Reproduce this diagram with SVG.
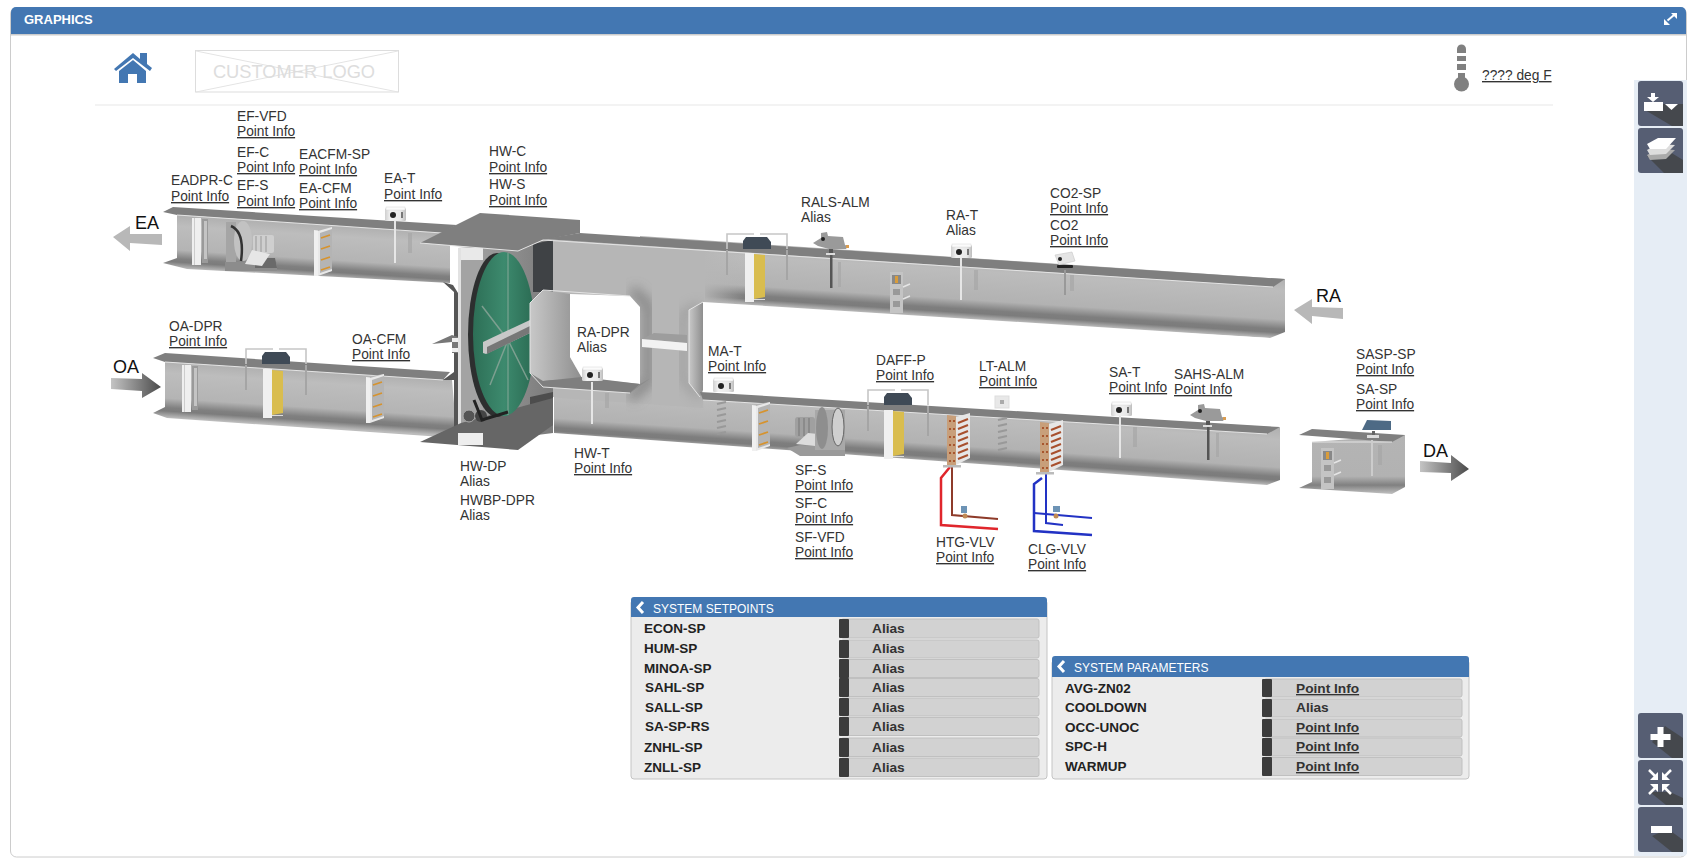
<svg xmlns="http://www.w3.org/2000/svg" xmlns:xlink="http://www.w3.org/1999/xlink" width="1696" height="863" viewBox="0 0 1696 863">
<style>
text{font-family:"Liberation Sans",Arial,sans-serif}
.t{font-size:13.75px;fill:#333}
.u{text-decoration:underline}
.big{font-size:18px;fill:#111}
.ph{font-size:12px;fill:#fff}
.n{font-size:13.5px;font-weight:bold;fill:#222}
.v{font-size:13.7px;font-weight:bold;fill:#333}
.plate{fill:#7f7f7f}
.edge{fill:none;stroke:#e4e4e4;stroke-width:1}
.row{fill:#d2d2d2;stroke:#c0c0c0;stroke-width:1}
.strip{fill:#3c3c3c}
.panel{fill:#ececec;stroke:#c4c4c4}
.hd{fill:#4377b2}
.btn{fill:#565e73}
.sh{fill:#45484d}
.ic{fill:#fff}
.probe{fill:#e6e6e6}
.pshade{fill:#a6a6a6;opacity:.7}
</style>
<defs>
<linearGradient id="gEA" gradientUnits="userSpaceOnUse" x1="0" y1="204" x2="0" y2="257" gradientTransform="matrix(1,0.0645,0,1,0,0)"><stop offset="0" stop-color="#b0b0b0"/><stop offset=".2" stop-color="#bdbdbd"/><stop offset=".65" stop-color="#b4b4b4"/><stop offset=".82" stop-color="#808080"/><stop offset=".88" stop-color="#7c7c7c"/><stop offset="1" stop-color="#bcbcbc"/></linearGradient>
<linearGradient id="gOA" gradientUnits="userSpaceOnUse" x1="0" y1="351" x2="0" y2="407" gradientTransform="matrix(1,0.0645,0,1,0,0)"><stop offset="0" stop-color="#b0b0b0"/><stop offset=".2" stop-color="#bdbdbd"/><stop offset=".65" stop-color="#b4b4b4"/><stop offset=".82" stop-color="#808080"/><stop offset=".88" stop-color="#7c7c7c"/><stop offset="1" stop-color="#bcbcbc"/></linearGradient>
<linearGradient id="gRA" gradientUnits="userSpaceOnUse" x1="0" y1="197" x2="0" y2="257.500" gradientTransform="matrix(1,0.0635,0,1,0,0)"><stop offset="0" stop-color="#b0b0b0"/><stop offset=".2" stop-color="#bcbcbc"/><stop offset=".68" stop-color="#b2b2b2"/><stop offset=".84" stop-color="#7e7e7e"/><stop offset=".9" stop-color="#7c7c7c"/><stop offset="1" stop-color="#bcbcbc"/></linearGradient>
<linearGradient id="gSA" gradientUnits="userSpaceOnUse" x1="0" y1="341" x2="0" y2="399" gradientTransform="matrix(1,0.068,0,1,0,0)"><stop offset="0" stop-color="#b0b0b0"/><stop offset=".2" stop-color="#bcbcbc"/><stop offset=".68" stop-color="#b2b2b2"/><stop offset=".84" stop-color="#7e7e7e"/><stop offset=".9" stop-color="#7c7c7c"/><stop offset="1" stop-color="#bcbcbc"/></linearGradient>
<linearGradient id="gDA" x1="0" y1="0" x2="0" y2="1"><stop offset="0" stop-color="#b4b4b4"/><stop offset=".7" stop-color="#b2b2b2"/><stop offset=".85" stop-color="#808080"/><stop offset="1" stop-color="#c2c2c2"/></linearGradient>
<linearGradient id="gArrow" x1="0" y1="0" x2="1" y2="0"><stop offset="0" stop-color="#c4c4c4"/><stop offset="1" stop-color="#4a4a4a"/></linearGradient>
<linearGradient id="gWheel" x1="0" y1="0" x2="1" y2="0"><stop offset="0" stop-color="#2d6f56"/><stop offset=".5" stop-color="#3d8a6e"/><stop offset="1" stop-color="#2a6a52"/></linearGradient>
<linearGradient id="gIn" x1="0" y1="0" x2="1" y2="0"><stop offset="0" stop-color="#c8c8c8"/><stop offset="1" stop-color="#8e8e8e"/></linearGradient>
<linearGradient id="gCab" x1="0" y1="0" x2="1" y2="0"><stop offset="0" stop-color="#a8a8a8"/><stop offset="1" stop-color="#7a7a7a"/></linearGradient>
<linearGradient id="gFade" x1="0" y1="0" x2="1" y2="0"><stop offset="0" stop-color="#b6b6b6"/><stop offset="1" stop-color="#b6b6b6" stop-opacity="0"/></linearGradient>
<linearGradient id="gBox" x1="0" y1="0" x2="1" y2="0"><stop offset="0" stop-color="#cfcfcf"/><stop offset=".25" stop-color="#f2f2f2"/><stop offset=".75" stop-color="#e8e8e8"/><stop offset="1" stop-color="#bdbdbd"/></linearGradient>
<filter id="bl" x="-20%" y="-20%" width="140%" height="140%"><feGaussianBlur stdDeviation="6"/></filter>
<g id="tsens"><rect x="0" y="1" width="21" height="13" rx="1.500" fill="url(#gBox)"/><rect x="1" y="0" width="19" height="3" fill="#fbfbfb" stroke="#d8d8d8" stroke-width=".5"/><circle cx="8" cy="8" r="3" fill="#222"/><rect x="16" y="5" width="2" height="6" fill="#777"/></g>
<g id="dmpr"><rect x="0" y="0" width="9" height="47" fill="#efefef"/><rect x="2" y="0" width="1" height="47" fill="#ccc"/><rect x="10" y="1" width="6" height="44" fill="#9a9a9a"/><rect x="12" y="3" width="3" height="38" fill="#c4c4c4"/></g>
<g id="filt"><rect x="0" y="0" width="9" height="49" fill="#f0f0f0"/><polygon points="9,1 20,2 20,44 9,46" fill="#d9bd4f"/><rect x="9" y="46" width="11" height="1" fill="#ddd"/></g>
<g id="dps"><path d="M0 15V0H27M33 0H60V15" fill="none" stroke="#c6c6c6" stroke-width="1.600"/><polygon points="16,7 19,3 40,3 44,8 44,15 16,15" fill="#3f4a56"/><rect x="-1" y="16" width="2" height="25" fill="#a5a5a5"/><rect x="59" y="16" width="2" height="30" fill="#a5a5a5"/></g>
<g id="afm"><polygon points="0,3 18,0 18,44 0,49" fill="#b4b4b4"/><polygon points="0,3 4,3.500 4,49 0,49" fill="#f0f0f0"/><polygon points="4,4 18,0 18,2 6,6 6,46 18,42 18,44 4,49" fill="#e8e8e8"/><g stroke="#d6932e" stroke-width="1.800"><path d="M7 11L16 8M7 22L16 19M7 33L16 30M7 43L16 40"/></g></g>
<g id="spring" fill="none" stroke="#999" stroke-width="2"><path d="M0 2L9 0M0 8L9 6M0 14L9 12M0 20L9 18M0 26L9 24M0 32L9 30"/></g>
<g id="alm"><polygon points="0,12 8,7 8,2 14,1 15,5 30,6 32,14 35,15 33,18 16,18 5,15" fill="#9a9a9a"/><circle cx="10" cy="8" r="2" fill="#222"/><rect x="16" y="18" width="4" height="4" fill="#555"/><rect x="13" y="22" width="9" height="2" fill="#ddd"/><rect x="17" y="24" width="2.500" height="33" fill="#555"/><rect x="33" y="14" width="3" height="3" fill="#d99c50"/></g>
<g id="coil"><polygon points="0,0 9,1 9,50 0,50" fill="#c89f7a"/><polygon points="9,2 23,-2 23,43 9,50" fill="#e6e6e6"/><g stroke="#a8502e" stroke-width="2"><path d="M11 8L21 4M11 14L21 10M11 20L21 16M11 26L21 22M11 32L21 28M11 38L21 34M11 44L21 40"/></g><g fill="#a8562e"><rect x="2" y="5" width="2" height="2"/><rect x="6" y="5" width="2" height="2"/><rect x="2" y="13" width="2" height="2"/><rect x="6" y="13" width="2" height="2"/><rect x="2" y="21" width="2" height="2"/><rect x="6" y="21" width="2" height="2"/><rect x="2" y="29" width="2" height="2"/><rect x="6" y="29" width="2" height="2"/><rect x="2" y="37" width="2" height="2"/><rect x="6" y="37" width="2" height="2"/><rect x="2" y="45" width="2" height="2"/><rect x="6" y="45" width="2" height="2"/></g><rect x="-4" y="50" width="18" height="2.500" fill="#bbb"/></g>
<g id="col"><rect x="0" y="0" width="13" height="41" fill="#c4c4c4"/><rect x="2" y="3" width="9" height="9" fill="#888"/><rect x="5" y="4" width="3" height="7" fill="#d99c3a"/><rect x="3" y="17" width="7" height="6" fill="#999"/><rect x="3" y="29" width="7" height="6" fill="#999"/><path d="M13 15L20 12M13 27L20 24" stroke="#e5e5e5" stroke-width="1.500"/></g>
</defs>

<rect width="1696" height="863" fill="#fff"/>
<g id="frame">
<rect x="10.500" y="8" width="1676" height="849" rx="6" fill="#fff" stroke="#ccc"/>
<path d="M11 34V12a5 5 0 0 1 5-5H1681a5 5 0 0 1 5 5V34Z" fill="#4377b2"/>
<rect x="11" y="34" width="1675" height="1.500" fill="#ccc"/>
<text x="24" y="24" font-size="13" font-weight="bold" fill="#fff">GRAPHICS</text>
<path d="M1667.500 20.500L1674 15" stroke="#fff" stroke-width="2"/>
<polygon points="1671,13 1677,13 1677,19" fill="#fff"/>
<polygon points="1664,19 1664,25 1670,25" fill="#fff"/>
</g>
<g id="toolbar">
<path d="M1634 80H1687V853a4 4 0 0 1-4 3H1634Z" fill="#e6edf5"/>
<g id="btn-export"><rect class="btn" x="1638" y="81" width="45" height="45" rx="3"/><polygon class="sh" points="1663,104 1683,104 1683,126 1672,126 1645,110"/><polygon class="ic" points="1647,97 1651,97 1651,93 1655,93 1655,97 1659,97 1653,102"/><rect class="ic" x="1644" y="102" width="19" height="9"/><polygon class="ic" points="1665,104 1678,104 1671.500,110"/></g>
<g id="btn-layers"><rect class="btn" x="1638" y="128" width="45" height="45" rx="3"/><polygon class="sh" points="1647,156 1670,152 1683,160 1683,173 1664,173"/><polygon points="1647,155 1658,149 1675,150 1666,159 1650,160" fill="#aaa"/><polygon points="1647,150 1658,144 1675,145 1666,154 1650,155" fill="#ddd"/><polygon class="ic" points="1647,144 1658,138 1676,138 1666,149 1650,149"/></g>
<g id="btn-plus"><rect class="btn" x="1638" y="713" width="45" height="45" rx="3"/><polygon class="sh" points="1665,726 1683,738 1683,758 1672,758 1652,742"/><path class="ic" d="M1657.500 727h6v7h7v6h-7v7h-6v-7h-7v-6h7z"/></g>
<g id="btn-fit"><rect class="btn" x="1638" y="760" width="45" height="45" rx="3"/><polygon class="sh" points="1670,792 1683,798 1683,805 1666,805 1650,792"/><g stroke="#fff" stroke-width="2.500" fill="none"><path d="M1649 770L1656 777M1671 770L1664 777M1649 794L1656 787M1671 794L1664 787"/></g><g fill="#fff"><polygon points="1658,772 1658,780 1650,780"/><polygon points="1662,772 1662,780 1670,780"/><polygon points="1658,792 1658,784 1650,784"/><polygon points="1662,792 1662,784 1670,784"/></g></g>
<g id="btn-minus"><rect class="btn" x="1638" y="807" width="45" height="45" rx="3"/><polygon class="sh" points="1668,829 1683,840 1683,852 1672,852 1652,836"/><rect class="ic" x="1651" y="826" width="21" height="7"/></g>
</g>
<g id="home"><polygon points="114,69 133,53 140,59 140,53 147,53 147,64 152,68 150,71 133,58 116,71" fill="#4377b2"/><path d="M119 71L133 60L146 71V83H137V74H128V83H119Z" fill="#4377b2"/></g>
<g id="logo"><rect x="195.500" y="50.500" width="203" height="41.500" fill="#fff" stroke="#ddd"/><path d="M196 51L398 92M398 51L196 92" stroke="#e4e4e4"/><text x="294" y="78" text-anchor="middle" font-size="18.300" fill="#ddd">CUSTOMER LOGO</text></g>
<rect x="95" y="104.500" width="1458" height="1" fill="#e8e8e8"/>
<g id="thermo" fill="#808080"><path d="M1457 53V49a4.500 4.500 0 0 1 9 0V53Z"/><rect x="1457" y="56" width="9" height="5"/><rect x="1457" y="64" width="9" height="6"/><rect x="1458" y="73" width="7" height="8"/><circle cx="1461.500" cy="84" r="7.500"/><text class="t u" x="1482" y="80">???? deg F</text></g>

<g id="duct-ra"><polygon points="640,236 1285,279 1285,332 1270,338 640,302" fill="url(#gRA)"/></g>
<g id="duct-sa"><polygon points="554,388 1280,427 1280,480 1267,485 554,433" fill="url(#gSA)"/></g>
<g id="tee">
<polygon points="543,239 705,248 705,302 689,310 689,383 703,395 703,408 560,398 540,395" fill="#b6b6b6"/>
<polygon points="700,244 745,248 745,305 700,302" fill="url(#gFade)"/>
<path d="M632 290L648 305V382L630 398" stroke="#6f6f6f" stroke-width="10" fill="none" filter="url(#bl)" opacity=".7"/>
<path d="M543 244H700" stroke="#aaa" stroke-width="6" filter="url(#bl)" opacity=".5"/>
<path d="M700 305L683 314V380L700 398" stroke="#7a7a7a" stroke-width="6" fill="none" filter="url(#bl)" opacity=".5"/>
<polygon points="703,302 1270,338 1290,338 1290,428 703,393" fill="#fff"/>
<polygon points="689,310 703,302 703,390 700,397 689,383" fill="url(#gIn)"/>
<path d="M703 302L689 310V383L700 397" class="edge"/>
</g>
<g id="duct-ea"><polygon points="177,215 450,233 450,283 187,269 163,263 177,258" fill="url(#gEA)"/><polygon class="plate" points="163,212 173,207 457,225 442,233 177,215"/><path class="edge" d="M177 215L442 233"/></g>
<g id="duct-oa"><polygon points="165,362 452,380 457,438 167,418 153,413 165,407" fill="url(#gOA)"/><polygon class="plate" points="153,358 165,353 450,372 443,380 165,362"/><path class="edge" d="M165 362L443 380"/></g>
<polygon points="443,282 453,285 458,293 458,440 454,428 454,380 443,380 454,372 454,292" fill="#555"/>
<g id="wheel-cabinet">
<polygon points="458,248 553,240 553,433 458,445" fill="url(#gCab)"/>
<polygon points="461,262 483,250 483,434 461,440" fill="#a3a3a3"/>
<rect x="458" y="248" width="25" height="12" fill="#e9e9e9"/>
<rect x="458" y="248" width="3" height="197" fill="#e2e2e2"/>
<polygon points="533,244 553,240 553,292 533,292" fill="#3f4245"/>
<polygon points="530,397 553,392 553,425 530,432" fill="#4d4d4d"/>
<polygon points="420,442 461,423 553,398 553,425 518,450" fill="#666"/>
<rect x="458" y="433" width="25" height="12" fill="#eeeeee"/>
<ellipse cx="497" cy="335" rx="29" ry="82" fill="#2d2f2f"/>
<ellipse cx="504" cy="334" rx="31" ry="82" fill="url(#gWheel)"/>
<g stroke="#8fa79b" stroke-width="1.500" opacity=".8"><path d="M508 340L482 306M508 340L490 385M508 340L533 322M508 340L528 380"/><path d="M508 253V415" stroke="#7aa392"/></g>
<polygon points="483,342 530,320 530,333 486,354 483,353" fill="#c8c8c8"/>
<polygon points="487,347 530,326 530,333 487,354" fill="#777"/>
<circle cx="469" cy="416" r="6" fill="#555" stroke="#aaa"/><circle cx="481" cy="416" r="6" fill="#444"/>
<path d="M474 400L482 420L508 412" stroke="#222" stroke-width="3" fill="none"/>
<polygon class="plate" points="420,243 480,213 580,220 580,233 543,240 518,251"/>
<path class="edge" d="M420 243L518 251L543 240"/>
<polygon points="432,344 452,335 458,337 458,353 452,353 452,342" fill="#777"/>
<rect x="452" y="338" width="6" height="4" fill="#eee"/><rect x="452" y="348" width="6" height="4" fill="#eee"/>
</g>
<polygon class="plate" points="543,239 580,233 1285,279 1273,287"/><path class="edge" d="M543 240L1273 287"/>
<g id="ra-octagon">
<polygon points="530,303 543,290 570,294 570,357 582,378 543,381 530,373" fill="url(#gIn)"/>
<polygon points="570,294 630,296 640,307 640,384 582,378 570,357" fill="#fff"/>
<polygon class="plate" points="543,381 582,377 640,384 630,393 543,387"/>
<polygon points="630,393 651,378 640,384" fill="#8c8c8c"/>
<path class="edge" d="M530 373V303L543 290L630 296"/>
<path class="edge" d="M530 373L543 387L630 393"/>
</g>
<polygon class="plate" points="700,392 1280,427 1267,434 703,400"/><path class="edge" d="M703 400L1267 434"/>
<g id="bridge"><polygon points="642,339 654,333 687,335 687,343" fill="#9d9d9d"/><polygon points="642,339 687,343 687,351 642,347" fill="#f2f2f2"/></g>
<g id="duct-da"><polygon points="1312,442 1405,435 1405,487 1392,494 1299,488 1312,482" fill="url(#gDA)"/><polygon class="plate" points="1299,435 1312,429 1405,435 1392,442"/><path class="edge" d="M1312 442L1392 442"/></g>

<g id="arrow-ea"><polygon points="113,237 130,226 130,234 162,234 162,245 130,243 130,251" fill="#b8b8b8"/><text class="big" x="135" y="229">EA</text></g>
<g id="arrow-oa"><polygon points="111,378 142,379 142,373 161,387 142,398 142,391 111,389" fill="url(#gArrow)"/><text class="big" x="113" y="373">OA</text></g>
<g id="arrow-ra"><polygon points="1294,310 1312,299 1312,307 1343,308 1343,319 1312,316 1312,324" fill="#b8b8b8"/><text class="big" x="1316" y="302">RA</text></g>
<g id="arrow-da"><polygon points="1420,461 1451,463 1451,455 1469,469 1451,481 1451,473 1420,472" fill="url(#gArrow)"/><text class="big" x="1423" y="457">DA</text></g>

<g id="connectors" fill="none">
<path d="M950 467L941 478V525L998 529" stroke="#e0262c" stroke-width="2.500"/>
<path d="M952 467V515L998 519" stroke="#8e3b2a" stroke-width="2"/>
<path d="M1042 478L1034 484V531L1092 535" stroke="#2232c4" stroke-width="2.500"/>
<path d="M1034 513L1092 518" stroke="#2232c4" stroke-width="2"/>
<path d="M1046 473V523L1063 525" stroke="#2232c4" stroke-width="2"/>
</g>

<g id="devices">
<g id="ea-damper"><use xlink:href="#dmpr" x="192" y="218"/></g>
<g id="ef-fan"><rect x="225" y="262" width="52" height="9" fill="#8c8c8c"/><polygon points="255,258 275,258 277,268 255,268" fill="#6a6a6a"/><rect x="226" y="222" width="10" height="40" fill="#a5a5a5"/><ellipse cx="243" cy="241" rx="9" ry="20" fill="#c2c2c2"/><path d="M231 226Q245 232 241 261" stroke="#333" stroke-width="2.500" fill="none"/><rect x="253" y="235" width="21" height="18" rx="2" fill="#cfcfcf"/><path d="M256 236V252M261 236V252M266 236V252" stroke="#999"/><polygon points="245,264 252,250 270,254 262,266" fill="#e6e6e6"/></g>
<g id="ea-afm"><use xlink:href="#afm" x="314" y="227"/></g>
<g id="ea-t"><use xlink:href="#tsens" x="385" y="207"/><rect class="probe" x="394" y="221" width="2" height="42"/><rect class="pshade" x="408" y="233" width="4" height="20"/></g>
<g id="oa-damper"><use xlink:href="#dmpr" x="182" y="365"/></g>
<g id="oa-dps"><use xlink:href="#dps" x="246" y="349"/><use xlink:href="#filt" x="263" y="369"/></g>
<g id="oa-afm"><use xlink:href="#afm" x="366" y="374"/></g>
<g id="ra-dps"><use xlink:href="#dps" x="727" y="234"/><use xlink:href="#filt" x="745" y="253"/></g>
<g id="rals"><use xlink:href="#alm" x="813" y="231"/><rect class="pshade" x="838" y="262" width="3" height="25"/></g>
<g id="ra-col"><use xlink:href="#col" x="890" y="272"/></g>
<g id="ra-t"><use xlink:href="#tsens" x="951" y="244"/><rect class="probe" x="960" y="258" width="2" height="42"/><rect class="pshade" x="974" y="270" width="4" height="20"/></g>
<g id="co2"><polygon points="1055,255 1072,252 1075,261 1059,265" fill="#e4e4e4" stroke="#c8c8c8" stroke-width=".6"/><circle cx="1060" cy="259" r="2" fill="#222"/><rect x="1057" y="265" width="16" height="3" rx="1" fill="#222"/><rect x="1064" y="270" width="2" height="25" fill="#999"/><rect class="pshade" x="1070" y="275" width="4" height="16"/></g>
<g id="hw-t"><use xlink:href="#tsens" x="582" y="367"/><rect class="probe" x="591" y="382" width="2" height="42"/><rect class="pshade" x="605" y="393" width="4" height="15"/></g>
<g id="ma-t"><use xlink:href="#tsens" x="713" y="378"/><use xlink:href="#spring" x="717" y="402"/></g>
<g id="sa-afm"><use xlink:href="#afm" x="752" y="402"/></g>
<g id="sf-fan"><polygon points="787,448 800,445 845,447 845,456 800,456" fill="#9a9a9a"/><rect x="795" y="417" width="20" height="20" rx="3" fill="#a0a0a0"/><path d="M799 418V436M804 418V436M809 418V436" stroke="#777"/><polygon points="796,444 808,433 818,434 815,446" fill="#dcdcdc"/><rect x="815" y="410" width="30" height="40" fill="#a8a8a8"/><ellipse cx="822" cy="428" rx="6" ry="21" fill="#8e8e8e"/><ellipse cx="838" cy="427" rx="6" ry="19" fill="#cfcfcf" stroke="#666"/></g>
<g id="daff"><use xlink:href="#dps" x="868" y="390"/><use xlink:href="#filt" x="884" y="410"/></g>
<g id="htg-coil"><use xlink:href="#coil" x="947" y="415"/><rect x="961" y="506" width="6" height="7" fill="#6d93b5"/><circle cx="965" cy="516" r="2.500" fill="#c08a55"/></g>
<g id="lt-alm"><rect x="995" y="396" width="14" height="12" fill="#e8e8e8" stroke="#ddd"/><rect x="1000" y="400" width="4" height="4" fill="#aaa"/><use xlink:href="#spring" x="998" y="418"/></g>
<g id="clg-coil"><use xlink:href="#coil" x="1040" y="422"/><rect x="1053" y="506" width="7" height="6" fill="#6d93b5"/><circle cx="1056" cy="516" r="2.500" fill="#c08a55"/></g>
<g id="sa-t"><use xlink:href="#tsens" x="1111" y="402"/><rect class="probe" x="1119" y="416" width="2" height="42"/><rect class="pshade" x="1133" y="427" width="4" height="20"/></g>
<g id="sahs"><use xlink:href="#alm" x="1190" y="403"/><rect class="pshade" x="1216" y="433" width="3" height="24"/></g>
<g id="da-col"><use xlink:href="#col" x="1321" y="448"/></g>
<g id="sasp"><polygon points="1362,430 1367,420 1391,421 1391,430" fill="#4d6a85"/><rect x="1372" y="431" width="3" height="5" fill="#666"/><rect x="1367" y="435" width="12" height="3" fill="#ddd"/><rect x="1371" y="440" width="2" height="36" fill="#ccc"/><rect class="pshade" x="1378" y="445" width="4" height="20"/></g>
</g>

<g id="labels">
<g id="l-ef-vfd"><text class="t" x="237" y="121">EF-VFD</text><text class="t u" x="237" y="136">Point Info</text></g>
<g id="l-ef-c"><text class="t" x="237" y="157">EF-C</text><text class="t u" x="237" y="172">Point Info</text></g>
<g id="l-ef-s"><text class="t" x="237" y="190">EF-S</text><text class="t u" x="237" y="206">Point Info</text></g>
<g id="l-eacfm-sp"><text class="t" x="299" y="159">EACFM-SP</text><text class="t u" x="299" y="174">Point Info</text></g>
<g id="l-ea-cfm"><text class="t" x="299" y="193">EA-CFM</text><text class="t u" x="299" y="208">Point Info</text></g>
<g id="l-eadpr-c"><text class="t" x="171" y="185">EADPR-C</text><text class="t u" x="171" y="201">Point Info</text></g>
<g id="l-ea-t"><text class="t" x="384" y="183">EA-T</text><text class="t u" x="384" y="199">Point Info</text></g>
<g id="l-hw-c"><text class="t" x="489" y="156">HW-C</text><text class="t u" x="489" y="172">Point Info</text></g>
<g id="l-hw-s"><text class="t" x="489" y="189">HW-S</text><text class="t u" x="489" y="205">Point Info</text></g>
<g id="l-oa-dpr"><text class="t" x="169" y="331">OA-DPR</text><text class="t u" x="169" y="346">Point Info</text></g>
<g id="l-oa-cfm"><text class="t" x="352" y="344">OA-CFM</text><text class="t u" x="352" y="359">Point Info</text></g>
<g id="l-hw-dp"><text class="t" x="460" y="471">HW-DP</text><text class="t" x="460" y="486">Alias</text></g>
<g id="l-hwbp"><text class="t" x="460" y="505">HWBP-DPR</text><text class="t" x="460" y="520">Alias</text></g>
<g id="l-rals"><text class="t" x="801" y="207">RALS-ALM</text><text class="t" x="801" y="222">Alias</text></g>
<g id="l-ra-t"><text class="t" x="946" y="220">RA-T</text><text class="t" x="946" y="235">Alias</text></g>
<g id="l-ra-dpr"><text class="t" x="577" y="337">RA-DPR</text><text class="t" x="577" y="352">Alias</text></g>
<g id="l-ma-t"><text class="t" x="708" y="356">MA-T</text><text class="t u" x="708" y="371">Point Info</text></g>
<g id="l-daff"><text class="t" x="876" y="365">DAFF-P</text><text class="t u" x="876" y="380">Point Info</text></g>
<g id="l-lt"><text class="t" x="979" y="371">LT-ALM</text><text class="t u" x="979" y="386">Point Info</text></g>
<g id="l-hw-t"><text class="t" x="574" y="458">HW-T</text><text class="t u" x="574" y="473">Point Info</text></g>
<g id="l-sf-s"><text class="t" x="795" y="475">SF-S</text><text class="t u" x="795" y="490">Point Info</text></g>
<g id="l-sf-c"><text class="t" x="795" y="508">SF-C</text><text class="t u" x="795" y="523">Point Info</text></g>
<g id="l-sf-vfd"><text class="t" x="795" y="542">SF-VFD</text><text class="t u" x="795" y="557">Point Info</text></g>
<g id="l-htg"><text class="t" x="936" y="547">HTG-VLV</text><text class="t u" x="936" y="562">Point Info</text></g>
<g id="l-co2-sp"><text class="t" x="1050" y="198">CO2-SP</text><text class="t u" x="1050" y="213">Point Info</text></g>
<g id="l-co2"><text class="t" x="1050" y="230">CO2</text><text class="t u" x="1050" y="245">Point Info</text></g>
<g id="l-sa-t"><text class="t" x="1109" y="377">SA-T</text><text class="t u" x="1109" y="392">Point Info</text></g>
<g id="l-sahs"><text class="t" x="1174" y="379">SAHS-ALM</text><text class="t u" x="1174" y="394">Point Info</text></g>
<g id="l-sasp"><text class="t" x="1356" y="359">SASP-SP</text><text class="t u" x="1356" y="374">Point Info</text></g>
<g id="l-sa-sp"><text class="t" x="1356" y="394">SA-SP</text><text class="t u" x="1356" y="409">Point Info</text></g>
<g id="l-clg"><text class="t" x="1028" y="554">CLG-VLV</text><text class="t u" x="1028" y="569">Point Info</text></g>
</g>

<g id="setpoints">
<rect class="panel" x="631" y="600" width="416" height="179" rx="3"/>
<path class="hd" d="M631 617V600a3 3 0 0 1 3-3H1044a3 3 0 0 1 3 3V617Z"/>
<path d="M643 602L638 607.500L643 613" stroke="#fff" stroke-width="3" fill="none"/>
<text class="ph" x="653" y="613">SYSTEM SETPOINTS</text>
<g><rect class="row" x="841" y="619" width="198" height="19" rx="2"/><rect class="strip" x="839" y="619" width="10" height="19" rx="1"/><text class="n" x="644" y="633">ECON-SP</text><text class="v" x="872" y="633">Alias</text></g>
<g><rect class="row" x="841" y="640" width="198" height="18" rx="2"/><rect class="strip" x="839" y="640" width="10" height="18" rx="1"/><text class="n" x="644" y="653">HUM-SP</text><text class="v" x="872" y="653">Alias</text></g>
<g><rect class="row" x="841" y="659.500" width="198" height="18" rx="2"/><rect class="strip" x="839" y="659" width="10" height="19" rx="1"/><text class="n" x="644" y="673">MINOA-SP</text><text class="v" x="872" y="673">Alias</text></g>
<g><rect class="row" x="841" y="678.500" width="198" height="18" rx="2"/><rect class="strip" x="839" y="678" width="10" height="19" rx="1"/><text class="n" x="645" y="692">SAHL-SP</text><text class="v" x="872" y="692">Alias</text></g>
<g><rect class="row" x="841" y="698" width="198" height="18" rx="2"/><rect class="strip" x="839" y="698" width="10" height="18" rx="1"/><text class="n" x="645" y="712">SALL-SP</text><text class="v" x="872" y="712">Alias</text></g>
<g><rect class="row" x="841" y="717.500" width="198" height="18" rx="2"/><rect class="strip" x="839" y="717" width="10" height="19" rx="1"/><text class="n" x="645" y="731">SA-SP-RS</text><text class="v" x="872" y="731">Alias</text></g>
<g><rect class="row" x="841" y="738" width="198" height="18.500" rx="2"/><rect class="strip" x="839" y="738" width="10" height="19" rx="1"/><text class="n" x="644" y="752">ZNHL-SP</text><text class="v" x="872" y="752">Alias</text></g>
<g><rect class="row" x="841" y="758" width="198" height="18.500" rx="2"/><rect class="strip" x="839" y="758" width="10" height="19" rx="1"/><text class="n" x="644" y="772">ZNLL-SP</text><text class="v" x="872" y="772">Alias</text></g>
</g>
<g id="parameters">
<rect class="panel" x="1052" y="660" width="417" height="119" rx="3"/>
<path class="hd" d="M1052 677V659a3 3 0 0 1 3-3H1466a3 3 0 0 1 3 3V677Z"/>
<path d="M1064 661L1059 666.500L1064 672" stroke="#fff" stroke-width="3" fill="none"/>
<text class="ph" x="1074" y="672">SYSTEM PARAMETERS</text>
<g><rect class="row" x="1264" y="679" width="198" height="18" rx="2"/><rect class="strip" x="1262" y="679" width="10" height="18" rx="1"/><text class="n" x="1065" y="693">AVG-ZN02</text><text class="v u" x="1296" y="693">Point Info</text></g>
<g><rect class="row" x="1264" y="699" width="198" height="18" rx="2"/><rect class="strip" x="1262" y="699" width="10" height="18" rx="1"/><text class="n" x="1065" y="712">COOLDOWN</text><text class="v" x="1296" y="712">Alias</text></g>
<g><rect class="row" x="1264" y="719" width="198" height="18" rx="2"/><rect class="strip" x="1262" y="719" width="10" height="18" rx="1"/><text class="n" x="1065" y="732">OCC-UNOC</text><text class="v u" x="1296" y="732">Point Info</text></g>
<g><rect class="row" x="1264" y="738" width="198" height="18" rx="2"/><rect class="strip" x="1262" y="738" width="10" height="18" rx="1"/><text class="n" x="1065" y="751">SPC-H</text><text class="v u" x="1296" y="751">Point Info</text></g>
<g><rect class="row" x="1264" y="757.500" width="198" height="18" rx="2"/><rect class="strip" x="1262" y="757" width="10" height="19" rx="1"/><text class="n" x="1065" y="771">WARMUP</text><text class="v u" x="1296" y="771">Point Info</text></g>
</g>
</svg>
